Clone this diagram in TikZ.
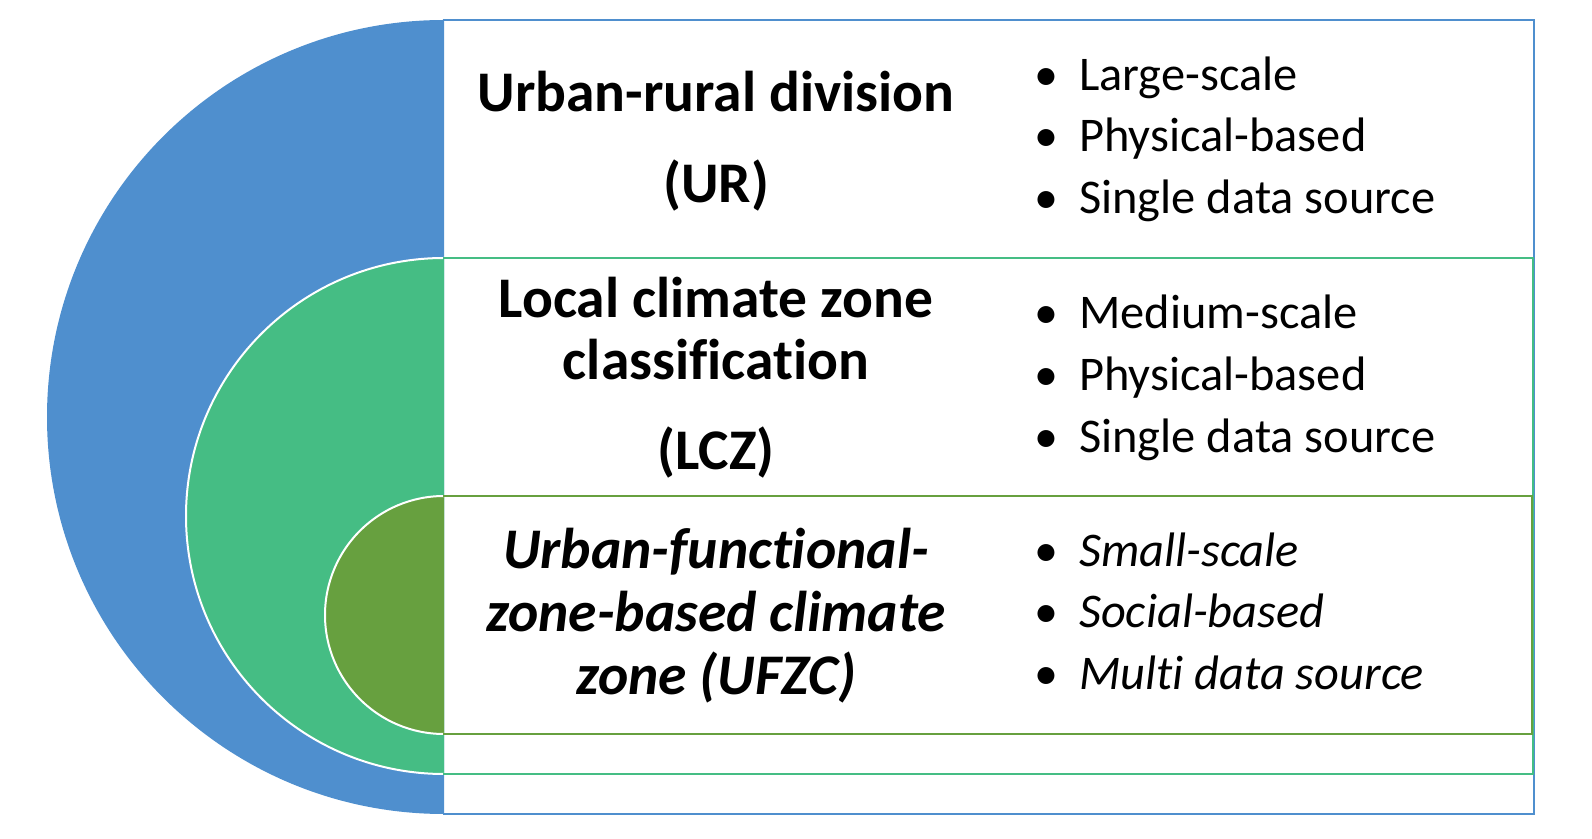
\documentclass[tikz,border=0pt]{standalone}
\usepackage{fontspec}
\setmainfont{Carlito}[Ligatures=NoCommon]
\definecolor{cblue}{RGB}{79,143,206}
\definecolor{cgreen}{RGB}{69,189,132}
\definecolor{colive}{RGB}{103,160,63}
\tikzset{
  title/.style={anchor=base, inner sep=0pt, font=\fontsize{57.5}{62}\selectfont\bfseries},
  ititle/.style={title, font=\fontsize{57.5}{62}\selectfont\bfseries\itshape},
  item/.style={anchor=base west, inner sep=0pt, font=\fontsize{48.4}{58}\selectfont},
  iitem/.style={item, font=\fontsize{48.4}{58}\selectfont\itshape},
  dot/.style={anchor=base, inner sep=0pt, font=\fontsize{48}{58}\selectfont},
  frame/.style={line width=2.2pt},
  half/.style={draw=white, line width=2pt}
}
\begin{document}
\begin{tikzpicture}[x=1pt,y=1pt]
\useasboundingbox (0,0) rectangle (1592,838);
% half discs
\fill[cblue] (444,818) arc[start angle=90, end angle=270, radius=397] -- cycle;
\fill[cgreen] (444,580) arc[start angle=90, end angle=270, radius=258] -- cycle;
\draw[half] (444,580) arc[start angle=90, end angle=270, radius=258];
\fill[colive] (444,342) arc[start angle=90, end angle=270, radius=119] -- cycle;
\draw[half] (444,342) arc[start angle=90, end angle=270, radius=119];
% frames
\draw[frame, cblue] (443,818) -- (1534,818) -- (1534,24) -- (443,24);
\draw[frame, cgreen] (443,580) -- (1533,580) -- (1533,64) -- (443,64);
\draw[frame, colive] (443,342) -- (1532,342) -- (1532,104) -- (443,104);
% titles
\node[title] (ur1) at (716,726) {Urban-rural division};
\node[title] (ur2) at (716,635) {(UR)};
\node[title] (lcz1) at (716,520) {Local climate zone};
\node[title] (lcz2) at (716,458) {classif\kern0pt icat\kern0pt ion};
\node[title] (lcz3) at (716,368) {(LCZ)};
\node[ititle] (uf1) at (716,269) {Urban-funct\kern0pt ional-};
\node[ititle] (uf2) at (716,206) {zone-based climate};
\node[ititle] (uf3) at (716,143) {zone (UFZC)};
% bullets
\foreach \y/\n in {747/a,686/b,624/c,509/d,447/e,385/f,271/g,210/h,148/i}{
  \node[dot] (d\n) at (1046,\y) {•};
}
\node[item] (ta) at (1079,747) {Large-scale};
\node[item] (tb) at (1079,686) {Physical-based};
\node[item] (tc) at (1079,624) {Single data source};
\node[item] (td) at (1079,509) {Medium-scale};
\node[item] (te) at (1079,447) {Physical-based};
\node[item] (tf) at (1079,385) {Single data source};
\node[iitem] (tg) at (1079,271) {Small-scale};
\node[iitem] (th) at (1079,210) {Social-based};
\node[iitem] (ti) at (1079,148) {Multi data source};
\end{tikzpicture}
\end{document}
